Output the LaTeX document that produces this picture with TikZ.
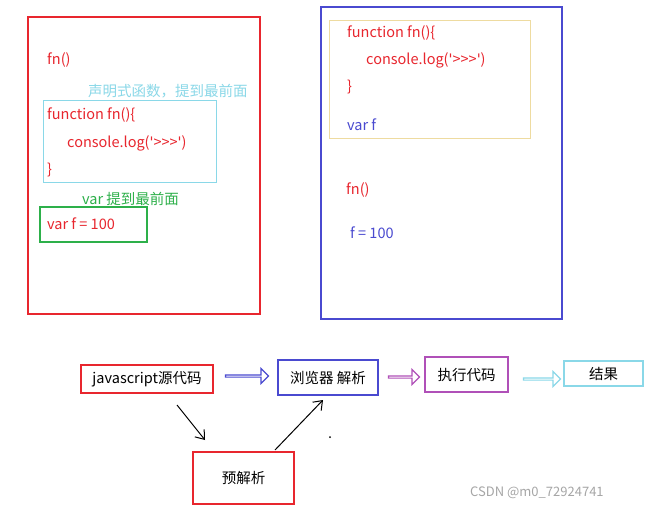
\documentclass[tikz,border=0pt]{standalone}
\usepackage{fontspec}
\setmainfont{Noto Sans CJK SC}
\newfontfamily\lat{DejaVu Sans}
\usetikzlibrary{shapes.arrows,arrows.meta}
\definecolor{rd}{HTML}{E8262E}
\definecolor{bl}{HTML}{4A4AD0}
\definecolor{cy}{HTML}{8AD8E8}
\definecolor{gr}{HTML}{2DB04A}
\definecolor{ye}{HTML}{EEDBA0}
\definecolor{pu}{HTML}{B050B8}
\newcommand{\qq}{{\lat\symbol{39}}}
\newcommand{\ggg}{>{}>{}>}
\begin{document}
\begin{tikzpicture}[x=1pt,y=-1pt,
  t/.style={anchor=west,inner sep=0,font=\fontsize{14.5}{16}\selectfont},
  bx/.style={draw,line width=1.3pt},
  ha/.style={single arrow,line width=1.2pt,minimum height=#1,single arrow head extend=3.5pt,minimum width=15pt,inner sep=0},
  ln/.style={-{Straight Barb[length=8pt,width=12pt]},line width=1pt}]
\useasboundingbox (0,0) rectangle (658,511);
\fill[white] (0,0) rectangle (658,511);
% left panel
\node[bx,rd,minimum width=232,minimum height=297,inner sep=0] (L) at (144,165.5) {};
\node[t,rd] (f1) at (47,60) {fn()};
\node[t,cy] (c1) at (88,91) {声明式函数，提到最前面};
\node[bx,cy,line width=1pt,minimum width=173,minimum height=82,inner sep=0] (C) at (129.5,141) {};
\node[t,rd] (a1) at (47,115) {function fn()\{};
\node[t,rd] (a2) at (67,143) {console.log(\qq\ggg\qq)};
\node[t,rd] (a3) at (47,170) {\}};
\node[t,gr] (g1) at (82,199) {var 提到最前面};
\node[bx,gr,minimum width=107,minimum height=35,inner sep=0] (G) at (93.5,224.5) {};
\node[t,rd] (v1) at (47,224) {var f = 100};
% right panel
\node[bx,bl,minimum width=241,minimum height=312,inner sep=0] (R) at (441.5,163) {};
\node[bx,ye,line width=1pt,minimum width=201,minimum height=117,inner sep=0] (Y) at (429.5,79.5) {};
\node[t,rd] (b1) at (347,33) {function fn()\{};
\node[t,rd] (b2) at (366,60) {console.log(\qq\ggg\qq)};
\node[t,rd] (b3) at (347,87) {\}};
\node[t,bl] (b4) at (347,125) {var f};
\node[t,rd] (b5) at (346,190) {fn()};
\node[t,bl] (b6) at (350,233) {f = 100};
% bottom flow
\node[bx,rd,minimum width=132,minimum height=28,t,anchor=center,inner sep=0,text=black] (js) at (147,379) {javascript源代码};
\node[bx,bl,minimum width=100,minimum height=35,t,anchor=center,inner sep=0,text=black] (br) at (328,377.5) {浏览器 解析};
\node[bx,pu,minimum width=83,minimum height=35,t,anchor=center,inner sep=0,text=black] (ex) at (466.5,374.5) {执行代码};
\node[bx,cy,minimum width=79,minimum height=25,t,anchor=center,inner sep=0,text=black] (rs) at (603.5,373.5) {结果};
\node[bx,rd,minimum width=101,minimum height=52,t,anchor=center,inner sep=0,text=black] (pre) at (243.5,478) {预解析};
\node[ha=43pt,draw=bl,fill=white] (h1) at (246.5,376) {};
\node[ha=31pt,draw=pu,fill=white] (h2) at (403.5,377) {};
\node[ha=37pt,draw=cy,fill=white] (h3) at (541.5,379) {};
\coordinate (s1) at (177,405); \coordinate (e1) at (205,440);
\draw[ln] (s1) -- (e1);
\coordinate (s2) at (275,450); \coordinate (e2) at (323,400);
\draw[ln] (s2) -- (e2);
\fill (330,437) circle (1pt);
\node[t,gray!70,font=\fontsize{13}{15}\selectfont] (w) at (470,493) {CSDN @m0\_72924741};
\end{tikzpicture}
\end{document}
